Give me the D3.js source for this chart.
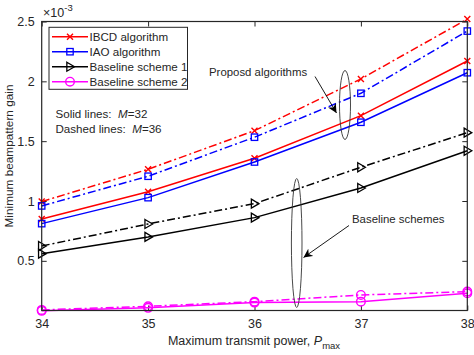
<!DOCTYPE html>
<html><head><meta charset="utf-8">
<script src="https://cdn.jsdelivr.net/npm/d3@7"></script>
<style>
html,body{margin:0;padding:0;background:#fff;}
svg text{font-family:"Liberation Sans",Arial,sans-serif;fill:#262626;}
</style></head>
<body><svg id="c" width="474" height="355"></svg>
<script>
const power = [34, 35, 36, 37, 38];
const yTicks = [0.5, 1, 1.5, 2, 2.5];
const ibcdM32 = [0.85, 1.078, 1.357, 1.713, 2.17];
const ibcdM36 = [0.995, 1.265, 1.588, 2.02, 2.52];
const iaoM32 = [0.811, 1.028, 1.326, 1.658, 2.072];
const iaoM36 = [0.959, 1.207, 1.533, 1.90, 2.42];
const base1M32 = [0.56, 0.70, 0.861, 1.109, 1.42];
const base1M36 = [0.624, 0.808, 0.978, 1.282, 1.571];
const base2M32 = [0.082, 0.107, 0.151, 0.159, 0.229];
const base2M36 = [0.09, 0.12, 0.159, 0.215, 0.243];
const legendNames = ["IBCD algorithm", "IAO algorithm", "Baseline scheme 1", "Baseline scheme 2"];

const series = [
  {v: ibcdM36, c: "#ff0000", m: "x", dash: true},
  {v: iaoM36, c: "#0000ff", m: "s", dash: true},
  {v: base1M36, c: "#000000", m: "t", dash: true},
  {v: base2M36, c: "#ff00ff", m: "o", dash: true},
  {v: ibcdM32, c: "#ff0000", m: "x", dash: false},
  {v: iaoM32, c: "#0000ff", m: "s", dash: false},
  {v: base1M32, c: "#000000", m: "t", dash: false},
  {v: base2M32, c: "#ff00ff", m: "o", dash: false}
];

const svg = d3.select("#c");
const L = 41.7, R = 467.3, T = 21.5, B = 310.5;
const x = d3.scaleLinear().domain([34, 38]).range([L, R]);
const y = d3.scaleLinear().domain([0.085, 2.5]).range([B, T]);
const axisCol = "#262626";

svg.append("defs").append("marker").attr("id","ah").attr("viewBox","0 0 10 10")
  .attr("refX",10).attr("refY",5).attr("markerWidth",9).attr("markerHeight",9)
  .attr("markerUnits","userSpaceOnUse").attr("orient","auto")
  .append("path").attr("d","M0,0 L10,5 L0,10 L3,5 Z").attr("fill","#000");

function drawMarker(g, m, cx, cy, c) {
  if (m === "x") {
    const s = 3;
    g.append("path").attr("d", `M${cx-s},${cy-s}L${cx+s},${cy+s}M${cx-s},${cy+s}L${cx+s},${cy-s}`)
      .attr("stroke", c).attr("stroke-width", 1.4).attr("fill", "none");
  } else if (m === "s") {
    const s = 3.2;
    g.append("rect").attr("x", cx-s).attr("y", cy-s).attr("width", 2*s).attr("height", 2*s)
      .attr("stroke", c).attr("stroke-width", 1.3).attr("fill", "none");
  } else if (m === "t") {
    const s = 4.5;
    g.append("path").attr("d", `M${cx-s*0.7},${cy-s}L${cx+s},${cy}L${cx-s*0.7},${cy+s}Z`)
      .attr("stroke", c).attr("stroke-width", 1.3).attr("fill", "none");
  } else {
    g.append("circle").attr("cx", cx).attr("cy", cy).attr("r", 4.3)
      .attr("stroke", c).attr("stroke-width", 1.4).attr("fill", "none");
  }
}

const gx = svg.append("g").attr("transform", `translate(0,${B})`)
  .call(d3.axisBottom(x).tickValues(power).tickFormat(d3.format("d")).tickSize(-5).tickPadding(9));
const gy = svg.append("g").attr("transform", `translate(${L},0)`)
  .call(d3.axisLeft(y).tickValues(yTicks).tickFormat(d => String(d)).tickSize(-5).tickPadding(7));
const gx2 = svg.append("g").attr("transform", `translate(0,${T})`)
  .call(d3.axisTop(x).tickValues(power).tickFormat("").tickSize(-5));
const gy2 = svg.append("g").attr("transform", `translate(${R},0)`)
  .call(d3.axisRight(y).tickValues(yTicks).tickFormat("").tickSize(-5));
[gx, gy, gx2, gy2].forEach(g => {
  g.selectAll(".domain").remove();
  g.selectAll("line").attr("stroke", axisCol).attr("stroke-width", 1);
  g.selectAll("text").attr("font-size", 12.5).attr("fill", axisCol)
    .style("font-family", "'Liberation Sans',Arial,sans-serif");
});

const lineGen = d3.line().x((d, i) => x(power[i])).y(d => y(d));
const gl = svg.append("g");
series.forEach(s => {
  gl.append("path").attr("d", lineGen(s.v)).attr("fill", "none").attr("stroke", s.c)
    .attr("stroke-width", 1.5).attr("stroke-dasharray", s.dash ? "8,3,2,3" : null);
  s.v.forEach((v, i) => drawMarker(gl, s.m, x(power[i]), y(v), s.c));
});

svg.append("rect").attr("x", L).attr("y", T).attr("width", R - L).attr("height", B - T)
  .attr("fill", "none").attr("stroke", axisCol).attr("stroke-width", 1.2);

const ex = svg.append("text").attr("x", 43).attr("y", 17).attr("font-size", 12.5);
ex.append("tspan").text("\u00d710");
ex.append("tspan").attr("dy", -6).attr("font-size", 9.5).text("-3");

const lg = svg.append("g");
lg.append("rect").attr("x", 49).attr("y", 27.3).attr("width", 138.5).attr("height", 62)
  .attr("fill", "#fff").attr("stroke", axisCol).attr("stroke-width", 1);
const legSeries = series.slice(4);
legendNames.forEach((n, i) => {
  const yy = 36.7 + i * 15;
  lg.append("line").attr("x1", 52).attr("x2", 88).attr("y1", yy).attr("y2", yy)
    .attr("stroke", legSeries[i].c).attr("stroke-width", 1.5);
  drawMarker(lg, legSeries[i].m, 70, yy, legSeries[i].c);
  lg.append("text").attr("x", 89.5).attr("y", yy + 4.2).attr("font-size", 11.6).text(n);
});

const t1 = svg.append("text").attr("x", 55.5).attr("y", 117.5).attr("font-size", 11.6);
t1.append("tspan").text("Solid lines:\u00a0\u00a0");
t1.append("tspan").attr("font-style", "italic").text("M");
t1.append("tspan").text("=32");
const t2 = svg.append("text").attr("x", 55.5).attr("y", 132.5).attr("font-size", 11.6);
t2.append("tspan").text("Dashed lines:\u00a0\u00a0");
t2.append("tspan").attr("font-style", "italic").text("M");
t2.append("tspan").text("=36");

svg.append("ellipse").attr("cx", 345).attr("cy", 105).attr("rx", 5.5).attr("ry", 34.5)
  .attr("fill", "none").attr("stroke", "#333").attr("stroke-width", 0.9);
svg.append("text").attr("x", 209).attr("y", 76).attr("font-size", 11.4).text("Proposd algorithms");
svg.append("line").attr("x1", 315).attr("y1", 76.5).attr("x2", 336.5).attr("y2", 113)
  .attr("stroke", "#000").attr("stroke-width", 0.9).attr("marker-end", "url(#ah)");

svg.append("ellipse").attr("cx", 296.7).attr("cy", 243).attr("rx", 5.3).attr("ry", 64.5)
  .attr("fill", "none").attr("stroke", "#333").attr("stroke-width", 0.9);
svg.append("text").attr("x", 352).attr("y", 222.5).attr("font-size", 11.4).text("Baseline schemes");
svg.append("line").attr("x1", 349).attr("y1", 225.5).attr("x2", 303.5).attr("y2", 257.5)
  .attr("stroke", "#000").attr("stroke-width", 0.9).attr("marker-end", "url(#ah)");

const xl = svg.append("text").attr("x", 254).attr("y", 345).attr("text-anchor", "middle").attr("font-size", 12.5);
xl.append("tspan").text("Maximum transmit power, ");
xl.append("tspan").attr("font-style", "italic").text("P");
xl.append("tspan").attr("dy", 4).attr("font-size", 9.5).text("max");
svg.append("text").attr("transform", "translate(13,156) rotate(-90)").attr("text-anchor", "middle")
  .attr("font-size", 11.8).text("Minimum beampattern gain");
</script></body></html>
